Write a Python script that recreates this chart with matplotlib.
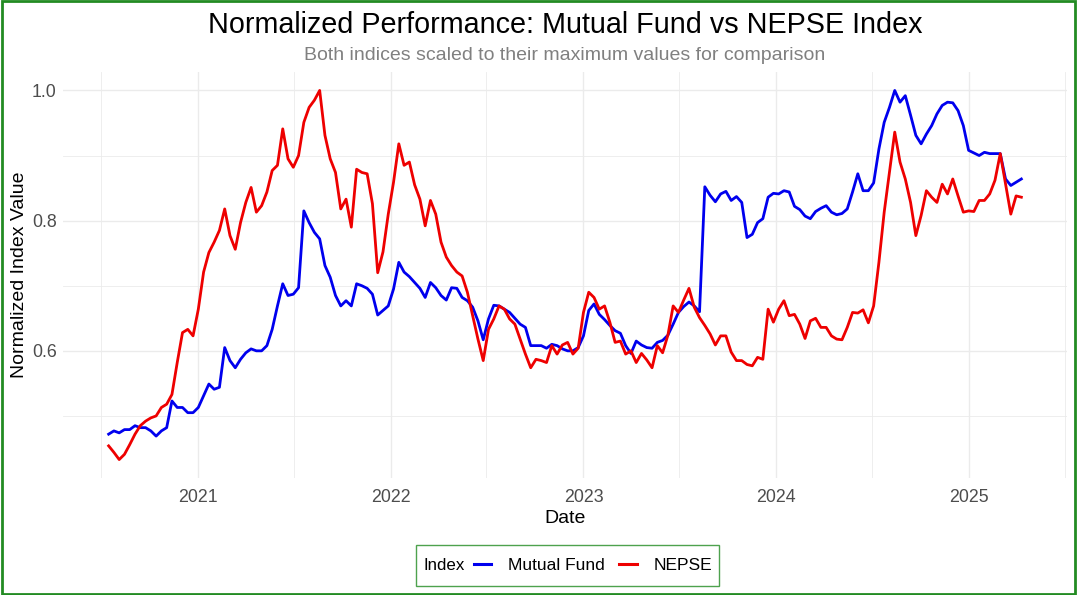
import matplotlib.pyplot as plt
import matplotlib.dates as mdates
import pandas as pd
from matplotlib.patches import Rectangle
from matplotlib.lines import Line2D
from matplotlib.offsetbox import HPacker, DrawingArea
from matplotlib.ticker import FormatStrFormatter

plt.rcParams['font.family'] = ['Liberation Sans', 'DejaVu Sans']

# series, one value every 10 days from the start date
start_date = '2020-07-15'
step = '10D'

mutual_fund = [
    0.472, 0.477, 0.474, 0.479, 0.479, 0.485, 0.482, 0.482, 0.477, 0.469,
    0.477, 0.482, 0.523, 0.513, 0.513, 0.505, 0.505, 0.513, 0.531, 0.549,
    0.541, 0.544, 0.605, 0.585, 0.574, 0.587, 0.597, 0.603, 0.600, 0.600,
    0.608, 0.633, 0.669, 0.703, 0.685, 0.687, 0.697, 0.815, 0.797, 0.782,
    0.772, 0.731, 0.713,
    0.685, 0.669, 0.677, 0.669, 0.703, 0.700, 0.696, 0.687, 0.655, 0.662,
    0.669, 0.695, 0.736, 0.721, 0.714, 0.705, 0.696, 0.682, 0.705, 0.697,
    0.685, 0.678, 0.697, 0.696, 0.682, 0.677, 0.667, 0.646, 0.617, 0.649,
    0.670, 0.669, 0.664, 0.659, 0.650, 0.641, 0.636, 0.608, 0.608, 0.608,
    0.604, 0.610, 0.608,
    0.603, 0.600, 0.600, 0.605, 0.623, 0.662, 0.672, 0.656, 0.648, 0.639,
    0.631, 0.627, 0.608, 0.596, 0.615, 0.609, 0.605, 0.604, 0.613, 0.616,
    0.624, 0.641, 0.659, 0.668, 0.675, 0.669, 0.660, 0.852, 0.839, 0.829,
    0.841, 0.845, 0.831, 0.837, 0.828, 0.774, 0.779, 0.797, 0.803, 0.836,
    0.842, 0.841,
    0.846, 0.844, 0.822, 0.817, 0.807, 0.803, 0.814, 0.819, 0.823, 0.813,
    0.809, 0.811, 0.818, 0.844, 0.872, 0.846, 0.846, 0.858, 0.910, 0.951,
    0.974, 1.000, 0.982, 0.992, 0.962, 0.931, 0.918, 0.933, 0.946, 0.964,
    0.977, 0.982, 0.981, 0.969, 0.946, 0.908, 0.904, 0.900, 0.905, 0.903,
    0.903, 0.903, 0.864, 0.854, 0.859, 0.864,
]

nepse = [
    0.454, 0.444, 0.433, 0.441, 0.456, 0.472, 0.485, 0.492, 0.497, 0.500,
    0.513, 0.518, 0.533, 0.582, 0.628, 0.633, 0.623, 0.664, 0.721, 0.751,
    0.767, 0.785, 0.818, 0.777, 0.756, 0.797, 0.828, 0.851, 0.813, 0.823,
    0.844, 0.877, 0.885, 0.941, 0.895, 0.882, 0.900, 0.951, 0.974, 0.985,
    1.000, 0.931, 0.895,
    0.874, 0.818, 0.833, 0.790, 0.879, 0.874, 0.872, 0.826, 0.720, 0.752,
    0.810, 0.859, 0.918, 0.885, 0.890, 0.855, 0.833, 0.792, 0.831, 0.810,
    0.767, 0.744, 0.731, 0.721, 0.715, 0.690, 0.654, 0.618, 0.585, 0.633,
    0.649, 0.669, 0.664, 0.649, 0.641, 0.618, 0.595, 0.574, 0.587, 0.585,
    0.582, 0.608, 0.595,
    0.609, 0.613, 0.595, 0.604, 0.659, 0.690, 0.682, 0.664, 0.669, 0.644,
    0.613, 0.615, 0.595, 0.600, 0.582, 0.596, 0.586, 0.574, 0.608, 0.597,
    0.624, 0.669, 0.659, 0.678, 0.696, 0.667, 0.651, 0.639, 0.626, 0.609,
    0.623, 0.623, 0.598, 0.585, 0.585, 0.579, 0.577, 0.590, 0.587, 0.664,
    0.644, 0.664,
    0.677, 0.654, 0.656, 0.641, 0.619, 0.646, 0.650, 0.636, 0.636, 0.623,
    0.618, 0.617, 0.636, 0.659, 0.658, 0.663, 0.643, 0.669, 0.736, 0.813,
    0.874, 0.936, 0.890, 0.864, 0.828, 0.777, 0.808, 0.846, 0.836, 0.828,
    0.856, 0.841, 0.864, 0.838, 0.813, 0.815, 0.814, 0.831, 0.831, 0.841,
    0.862, 0.903, 0.856, 0.810, 0.838, 0.836,
]

dates = pd.date_range(start_date, periods=len(nepse), freq=step)

W, H = 1077, 595
fig = plt.figure(figsize=(W / 100, H / 100), dpi=100)
ax = fig.add_axes([63 / W, 1 - 478 / H, 1004 / W, 406 / H])

ax.plot(dates, mutual_fund, color='#0000EE', lw=2.0, label='Mutual Fund')
ax.plot(dates, nepse, color='#EE0000', lw=2.0, label='NEPSE')
ax.margins(x=0.05, y=0.05)

# ggplot-like minimal theme
ax.xaxis.set_major_locator(mdates.YearLocator())
ax.xaxis.set_major_formatter(mdates.DateFormatter('%Y'))
ax.xaxis.set_minor_locator(mdates.MonthLocator(bymonth=7))
ax.set_yticks([0.6, 0.8, 1.0])
ax.set_yticks([0.5, 0.7, 0.9], minor=True)
ax.yaxis.set_major_formatter(FormatStrFormatter('%.1f'))
ax.grid(True, which='major', color='#EBEBEB', lw=1.0)
ax.grid(True, which='minor', color='#EBEBEB', lw=0.6)
ax.set_axisbelow(True)
for s in ax.spines.values():
    s.set_visible(False)
ax.tick_params(which='both', length=0, labelsize=12.8, labelcolor='#4D4D4D')
ax.tick_params(axis='x', pad=8)
ax.tick_params(axis='y', pad=4.5)

ax.set_xlabel('Date', fontsize=14, labelpad=3)
ax.set_ylabel('Normalized Index Value', fontsize=14, labelpad=3)

cx = (63 + 1067) / 2 / W
fig.text(cx, 1 - 33 / H, 'Normalized Performance: Mutual Fund vs NEPSE Index',
         ha='center', va='baseline', fontsize=20.7, color='black')
fig.text(cx, 1 - 60 / H, 'Both indices scaled to their maximum values for comparison',
         ha='center', va='baseline', fontsize=14, color='#808080')

# legend at the bottom, title on the left like ggplot
handles = [Line2D([], [], color='#0000EE', lw=2.2), Line2D([], [], color='#EE0000', lw=2.2)]
leg = fig.legend(handles, ['Mutual Fund', 'NEPSE'], title='Index', ncol=2,
                 loc='center', bbox_to_anchor=(567.5 / W, 1 - 565.5 / H),
                 fontsize=12.5, title_fontsize=12.2, frameon=True, fancybox=False,
                 edgecolor='#228B22', handlelength=1.0, handletextpad=0.95,
                 columnspacing=0.85, borderpad=0.5)
leg.get_frame().set_linewidth(1.0)
inner = HPacker(children=[leg._legend_title_box, leg._legend_handle_box],
                pad=0, sep=7, align='center')
box = HPacker(children=[DrawingArea(0, 19), inner], pad=5, sep=0, align='center')
box.set_figure(fig)
box.set_offset(leg._findoffset)
leg._legend_box = box

# green frame around the whole picture
fig.patches.append(Rectangle((0.0015, 0.0025), 0.997, 0.995, transform=fig.transFigure,
                             fill=False, edgecolor='#228B22', lw=2.0))

fig.savefig('out.png', dpi=100)
